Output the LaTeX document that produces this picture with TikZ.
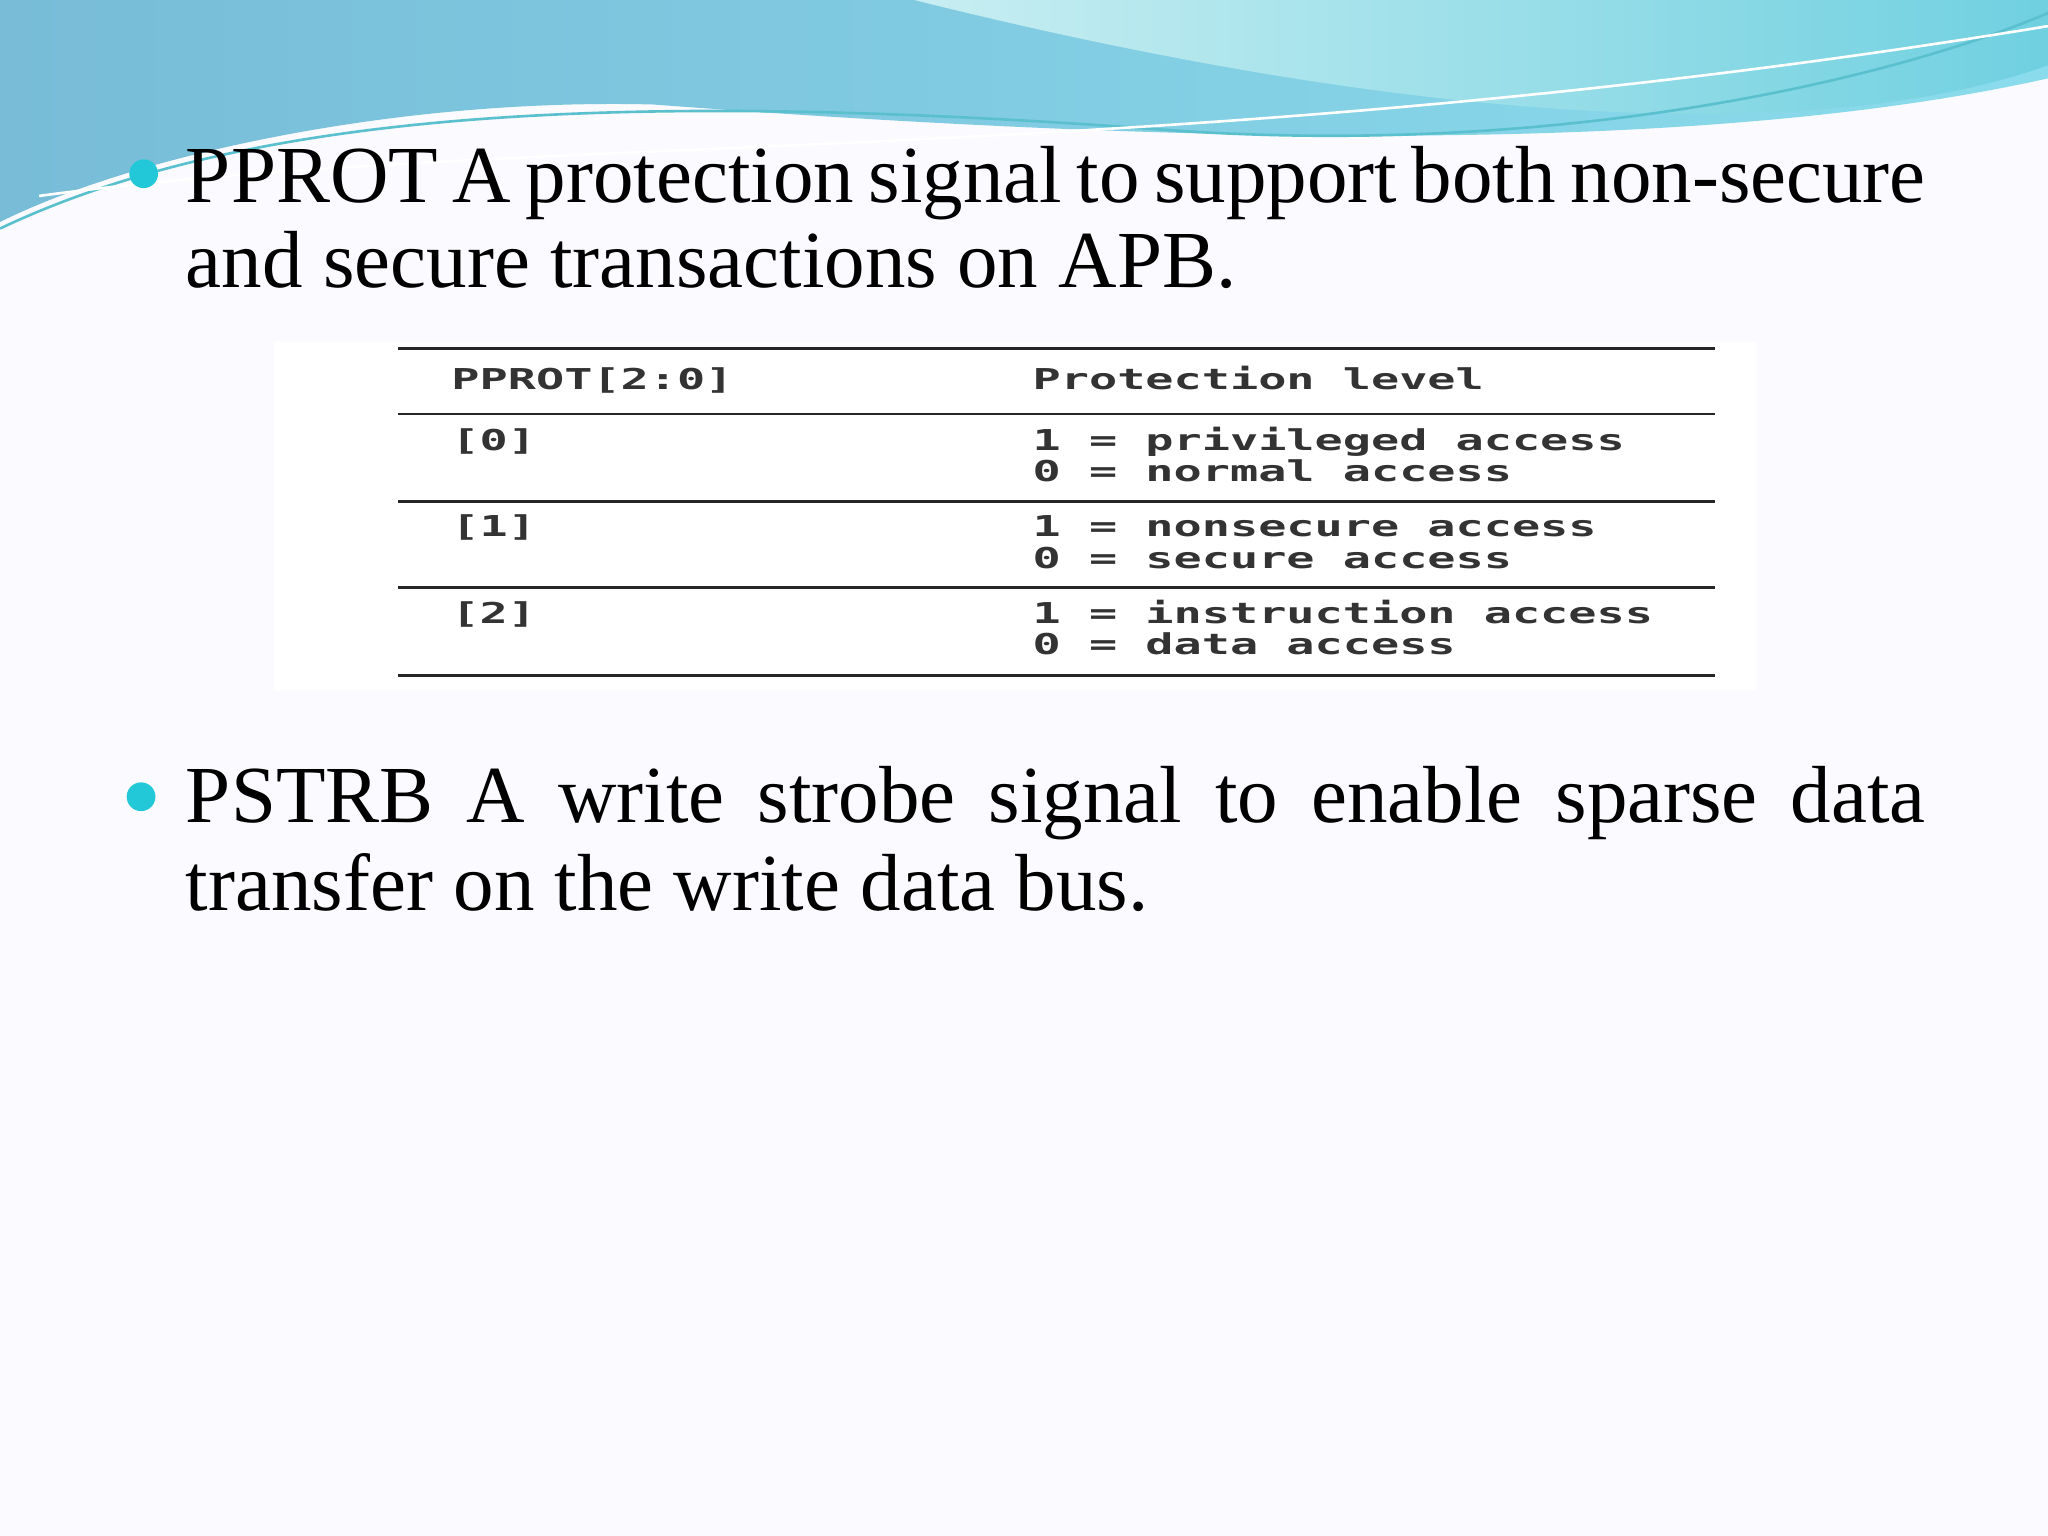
\documentclass[tikz,border=0pt]{standalone}
\usepackage{fontspec}
\setmainfont{Liberation Serif}
\newfontfamily\tabfont{DejaVu Sans Mono}
\definecolor{bulc}{HTML}{22C8D8}
\definecolor{wave1}{HTML}{78BCD8}
\definecolor{wave2}{HTML}{8ADCEC}
\definecolor{wave3}{HTML}{C8EEF2}
\definecolor{wave4}{HTML}{70D0E0}
\begin{document}
\begin{tikzpicture}[x=0.5pt,y=-0.5pt,
 main/.style={anchor=base west,inner sep=0pt,font=\fontsize{31}{37}\selectfont},
 tcell/.style={anchor=base west,inner sep=0pt,xscale=1.63,text=black!80,font=\tabfont\bfseries\fontsize{11}{13}\selectfont},
 rule/.style={line width=1pt,black!85},
 bul/.style={circle,fill=bulc,inner sep=0pt,minimum size=11pt}]
\fill[blue!2!white] (0,0) rectangle (1568,1176);
\useasboundingbox (0,0) rectangle (1568,1176);
% top waves
\shade[left color=wave1,right color=wave2] (0,0) -- (1568,0) -- (1568,60) .. controls (1300,120) and (900,110) .. (500,80) .. controls (300,75) and (100,120) .. (0,170) -- cycle;
\shade[left color=wave3,right color=wave4] (700,0) -- (1568,0) -- (1568,50) .. controls (1400,110) and (1100,100) .. (700,0) -- cycle;
\draw[wave4!80!teal,line width=1pt] (0,175) .. controls (200,80) and (500,70) .. (900,100) .. controls (1200,120) and (1450,60) .. (1568,10);
\draw[white,line width=1pt] (30,150) .. controls (400,100) and (900,130) .. (1568,20);
% bullet 1
\node[bul] (b1) at (110,133) {};
\node[main] (t1) at (142,155) {\makebox[666pt][s]{PPROT A protection signal to support both non-secure}};
\node[main] (t2) at (142,220) {and secure transactions on APB.};
% table
\fill[white] (210,262) rectangle (1345,528);
\foreach \y/\n in {267/r0,317/r1,384/r2,450/r3,517/r4}
  \draw[rule] (305,\y) coordinate (\n a) -- (1313,\y) coordinate (\n b);
\node[tcell] (h1) at (345,298) {PPROT[2:0]};
\node[tcell] (h2) at (790,298) {Protection level};
\node[tcell] (c0) at (345,345) {[0]};
\node[tcell] (c0a) at (790,345) {1 = privileged access};
\node[tcell] (c0b) at (790,369) {0 = normal access};
\node[tcell] (c1) at (345,411) {[1]};
\node[tcell] (c1a) at (790,411) {1 = nonsecure access};
\node[tcell] (c1b) at (790,435) {0 = secure access};
\node[tcell] (c2) at (345,477) {[2]};
\node[tcell] (c2a) at (790,477) {1 = instruction access};
\node[tcell] (c2b) at (790,501) {0 = data access};
% bullet 2
\node[bul] (b2) at (108,610) {};
\node[main] (t3) at (142,630) {\makebox[666pt][s]{PSTRB A write strobe signal to enable sparse data}};
\node[main] (t4) at (142,697) {transfer on the write data bus.};
\end{tikzpicture}
\end{document}
